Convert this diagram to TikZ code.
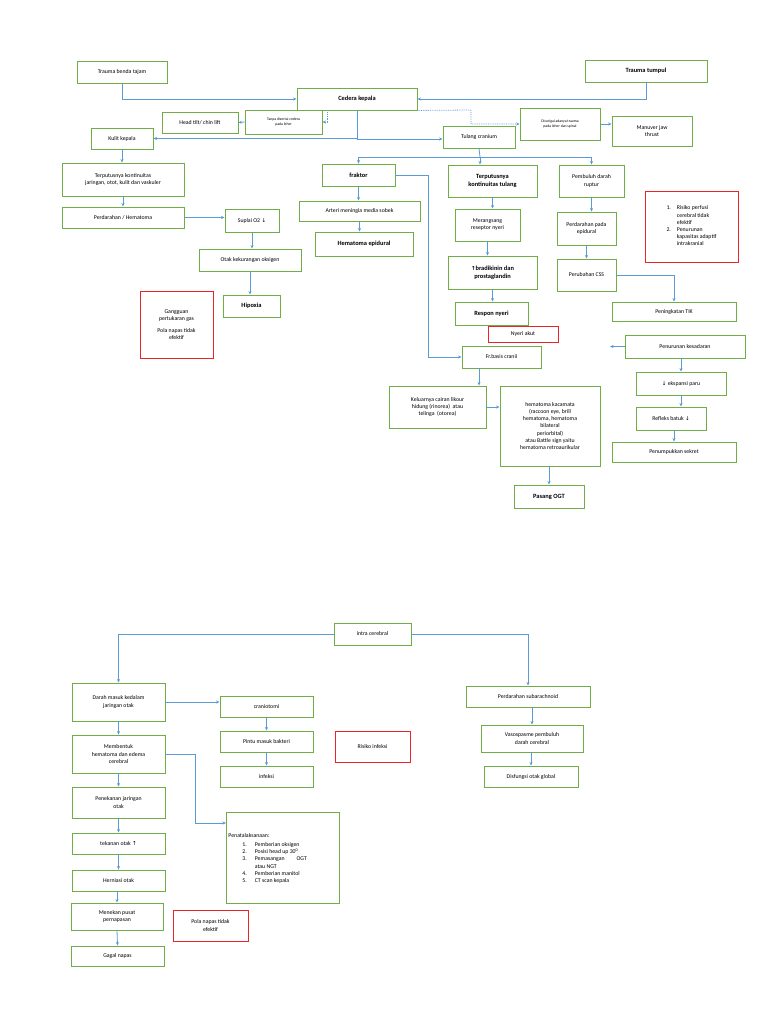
\documentclass[tikz,border=0pt]{standalone}
\usepackage{fontspec}
\setmainfont{Carlito}
\newfontfamily\dv{DejaVu Sans}
\usetikzlibrary{arrows.meta,calc}
\definecolor{grn}{HTML}{70AD47}
\definecolor{blu}{HTML}{5B9BD5}
\definecolor{rd}{HTML}{E8262A}
\tikzset{box/.style={draw=grn,line width=0.9pt,align=center,font=\fontsize{5.8}{7.2}\selectfont,inner sep=1pt},
 redbox/.style={box,draw=rd},
 bld/.style={font=\fontsize{6.4}{7.8}\selectfont\bfseries},
 arr/.style={draw=blu,line width=0.8pt,-{Stealth[length=3.5pt,width=3pt]}},
 ln/.style={draw=blu,line width=0.8pt},
 dot/.style={arr,densely dotted}}
\newcommand\bx[7][]{\node[box,#1,minimum width={(#5-#3)*1pt},minimum height={(#6-#4)*1pt}] (#2) at ({(#3+#5)/2},{(#4+#6)/2}) {#7};}
\newcommand\ua{{\dv\fontsize{5.5}{6}\selectfont ↑}}
\newcommand\da{{\dv\fontsize{5.5}{6}\selectfont ↓}}
\begin{document}
\begin{tikzpicture}[x=1pt,y=-1pt]
\fill[white] (0,0) rectangle (768,1024);
\useasboundingbox (0,0) rectangle (768,1024);
% top
\bx{tajam}{77}{61}{167}{83}{Trauma benda tajam}
\bx[bld]{tumpul}{585}{60}{707}{82}{Trauma tumpul}
\bx[bld]{cedera}{297}{88}{417}{110}{Cedera kepala}
\bx{head}{162}{112}{238}{133}{Head tilt/ chin lift}
\bx[font=\fontsize{3.8}{4.8}\selectfont]{tanpa}{245}{110}{322}{134}{Tanpa disertai cedera\\pada leher}
\bx{kulit}{91}{128}{153}{149}{Kulit kepala}
\bx{tulang}{443}{126}{515}{148}{Tulang cranium}
\bx[font=\fontsize{3.8}{4.8}\selectfont]{dicurigai}{520}{108}{600}{140}{Dicurigai adanya trauma\\pada leher dan spinal}
\bx{manuver}{612}{116}{692}{146}{Manuver jaw\\thrust}
\bx{putus}{62}{163}{184}{196}{Terputusnya kontinuitas\\jaringan, otot, kulit dan vaskuler}
\bx{perd}{62}{207}{184}{228}{Perdarahan / Hematoma}
\bx{suplai}{225}{209}{279}{232}{Suplai O2 \da}
\bx{otak}{199}{249}{301}{271}{Otak kekurangan oksigen}
\bx[bld]{hipoxia}{223}{295}{280}{317}{Hipoxia}
\bx[redbox]{gangguan}{140}{291}{213}{358}{Gangguan\\pertukaran gas\\[5pt]Pola napas tidak\\efektif}
\bx[bld]{fraktor}{322}{164}{395}{186}{fraktor}
\bx{arteri}{299}{201}{420}{221}{Arteri meningia media sobek}
\bx[bld]{hepi}{315}{232}{413}{256}{Hematoma epidural}
\bx[bld]{ptulang}{448}{165}{537}{197}{Terputusnya\\kontinuitas tulang}
\bx{merangsang}{455}{209}{520}{241}{Merangsang\\reseptor nyeri}
\bx[bld]{brad}{448}{256}{537}{289}{\ua bradikinin dan\\prostaglandin}
\bx[bld]{respon}{455}{302}{528}{325}{Respon nyeri}
\bx[redbox]{nyeri}{488}{326}{558}{342}{Nyeri akut}
\bx{pembuluh}{559}{165}{624}{197}{Pembuluh darah\\ruptur}
\bx{pepi}{557}{212}{616}{245}{Perdarahan pada\\epidural}
\bx{css}{557}{259}{616}{291}{Perubahan CSS}
\node[redbox,draw=rd,minimum width=93pt,minimum height=71pt,align=left] (risiko) at (691.5,226.5) {\begin{tabular}{@{}l@{\hspace{6pt}}l@{}}1.&Risiko perfusi\\&cerebral tidak\\&efektif\\2.&Penurunan\\&kapasitas adaptif\\&intrakranial\end{tabular}};
\bx{tik}{612}{302}{736}{321}{Peningkatan TIK}
\bx{frb}{462}{346}{541}{368}{Fr.basis cranii}
\bx{turun}{625}{335}{745}{358}{Penurunan kesadaran}
\bx{paru}{636}{372}{726}{395}{\da{} ekspansi paru}
\bx{batuk}{636}{407}{706}{430}{Refleks batuk \da}
\bx{sekret}{612}{442}{736}{462}{Penumpukkan sekret}
\bx{keluar}{389}{386}{486}{428}{Keluarnya cairan likour\\hidung (rinorea)\ \ atau\\telinga\ \ (otorea)}
\bx{kacamata}{500}{386}{600}{466}{hematoma kacamata\\(raccoon eye, brill\\hematoma, hematoma\\bilateral\\periorbital)\\atau Battle sign yaitu\\hematoma retroaurikular}
\bx[bld]{ogt}{514}{485}{584}{508}{Pasang OGT}
% top connectors
\draw[arr] (tajam.south) |- (cedera.west);
\draw[arr] (tumpul.south) |- (cedera.east);
\draw[dot] ($(cedera.south)+(-30,0)$) |- (tanpa.east);
\draw[arr] (tanpa.west) -- (head.east);
\draw[dot] (cedera.south east) -- (471,110) |- (dicurigai.west);
\draw[arr] (dicurigai.east) -- (manuver.west |- dicurigai.east);
\draw[arr] (cedera.south) |- (kulit.east);
\draw[arr] (cedera.south) -- (357,139) -- (tulang.west |- 0,139);
\draw[arr] (kulit.south) -- (kulit.south |- putus.north);
\draw[arr] (putus.south) -- (perd.north);
\draw[arr] (perd.east) -- (suplai.west |- perd.east);
\draw[arr] (suplai.south) -- (suplai.south |- otak.north);
\draw[arr] (otak.south) -- (otak.south |- hipoxia.north);
\coordinate (tb) at (480,157);
\draw[ln] (tulang.south) -- (tb);
\draw[ln] (fraktor.north |- tb) -- (pembuluh.north |- tb);
\draw[arr] (fraktor.north |- tb) -- (fraktor.north);
\draw[arr] (tb) -- (tb |- ptulang.north);
\draw[arr] (pembuluh.north |- tb) -- (pembuluh.north);
\draw[arr] (fraktor.south) -- (fraktor.south |- arteri.north);
\draw[arr] (arteri.south) -- (arteri.south |- hepi.north);
\draw[arr] (fraktor.east) -- (428,175) |- (frb.west);
\draw[arr] (ptulang.south) -- (ptulang.south |- merangsang.north);
\draw[arr] (merangsang.south) -- (merangsang.south |- brad.north);
\draw[arr] (brad.south) -- (brad.south |- respon.north);
\draw[arr] (pembuluh.south) -- (pembuluh.south |- pepi.north);
\draw[arr] (pepi.south) -- (pepi.south |- css.north);
\draw[arr] (css.east) -| (tik.north);
\coordinate (tl) at (610,346.5);
\draw[arr] (turun.west) -- (tl);
\draw[arr] (turun.south -| paru.north) -- (paru.north);
\draw[arr] (paru.south -| 681,0) -- (batuk.north -| 681,0);
\draw[arr] (batuk.south -| 674,0) -- (sekret.north -| 674,0);
\draw[arr] (frb.south -| 479,0) -- (keluar.north -| 479,0);
\draw[arr] (keluar.east) -- (kacamata.west |- keluar.east);
\draw[arr] (kacamata.south -| 549,0) -- (ogt.north -| 549,0);
% bottom
\bx{intra}{334}{623}{411}{645}{intra cerebral}
\bx{darah}{72}{683}{165}{721}{Darah masuk kedalam\\jaringan otak}
\bx{cranio}{220}{696}{313}{717}{craniotomi}
\bx{pintu}{220}{731}{313}{752}{Pintu masuk bakteri}
\bx{infeksi}{220}{766}{313}{787}{infeksi}
\bx[redbox]{rinfeksi}{335}{731}{410}{762}{Risiko infeksi}
\bx{sub}{466}{686}{590}{707}{Perdarahan subarachnoid}
\bx{vaso}{481}{725}{583}{752}{Vasospasme pembuluh\\darah cerebral}
\bx{disf}{484}{766}{578}{787}{Disfungsi otak global}
\bx{bentuk}{72}{735}{165}{773}{Membentuk\\hematoma dan edema\\cerebral}
\bx{tekan}{72}{787}{165}{818}{Penekanan jaringan\\otak}
\bx{tekanan}{72}{833}{165}{854}{tekanan otak \ua}
\bx{hern}{72}{870}{165}{891}{Herniasi otak}
\bx{pusat}{71}{903}{163}{930}{Menekan pusat\\pernapasan}
\bx{gagal}{71}{946}{164}{966}{Gagal napas}
\bx[redbox]{pola}{173}{910}{248}{941}{Pola napas tidak\\efektif}
\node[box,minimum width=113pt,minimum height=91pt,align=left,anchor=north west] (penat) at (226,812) {\begin{minipage}{109pt}\vspace{2pt}Penatalaksanaan:\\[3pt]
\begin{tabular}{@{\hspace{14pt}}l@{\hspace{8pt}}l@{}}1.&Pemberian oksigen\\2.&Posisi head up 30\textsuperscript{0}\\3.&Pemasangan\hspace{12pt}OGT\\&atau NGT\\4.&Pemberian manitol\\5.&CT scan kepala\end{tabular}\end{minipage}};
\draw[arr] (intra.west) -| (darah.north);
\draw[arr] (intra.east) -| (sub.north);
\draw[arr] (darah.east) -- (cranio.west |- darah.east);
\draw[arr] (cranio.south) -- (pintu.north);
\draw[arr] (pintu.south) -- (infeksi.north);
\draw[arr] (darah.south) -- (bentuk.north);
\draw[arr] (bentuk.south) -- (tekan.north);
\draw[arr] (tekan.south) -- (tekanan.north);
\draw[arr] (tekanan.south) -- (hern.north);
\draw[arr] (hern.south -| pusat.north) -- (pusat.north);
\draw[arr] (pusat.south) -- (gagal.north);
\draw[arr] (bentuk.east) -- (195,754) |- (226,823);
\draw[arr] (sub.south -| vaso.north) -- (vaso.north);
\draw[arr] (vaso.south -| disf.north) -- (disf.north);
\end{tikzpicture}
\end{document}
